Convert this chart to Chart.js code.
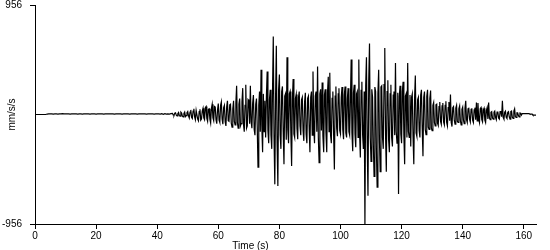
<!DOCTYPE html>
<html>
<head>
<meta charset="utf-8">
<script src="https://cdn.jsdelivr.net/npm/chart.js@4.4.1/dist/chart.umd.min.js"></script>
<style>
  html, body { margin: 0; padding: 0; background: #fff; }
  #wrap { width: 550px; height: 250px; }
</style>
</head>
<body>
<div id="wrap"><canvas id="seismo"></canvas></div>
<script>
const timeTicks = [0, 20, 40, 60, 80, 100, 120, 140, 160];
const ampTicks = [-956, 956];

// pre-event noise, mm/s/s, every 0.5 s from t = 0
const quietStep = 0.5;
const quietAccel = [
  0, 0, 0, 0, 0, 0, 0, 0, 4, 6,
  5, 6, 4, 6, 5, 4, 6, 5, 7, 5,
  5, 6, 5, 4, 6, 5, 6, 5, 4, 6,
  5, 4, 6, 5, 6, 5, 4, 5, 6, 5,
  4, 6, 5, 6, 5, 4, 6, 5, 6, 5,
  5, 6, 4, 6, 5, 6, 5, 4, 6, 5,
  6, 5, 4, 6, 5, 6, 5, 4, 6, 5,
  5, 6, 5, 4, 6, 5, 6, 5, 4, 6,
  5, 6, 4, 8, 2, 7, 3, 6, 4, 7
];

// shaking, mm/s/s, every 0.25 s from t = 45
const shakeStart = 45;
const shakeStep = 0.25;
const shakeAccel = [
  10, -5, -8, 12, 15, -6, -12, 8, 18, -10,
  -15, 20, 12, -14, -20, 10, 22, -18, -10, 15,
  25, -12, -30, 20, 40, -25, -35, 30, 50, -20,
  -45, 35, 35, -40, -55, 25, 45, -50, -40, 30,
  55, -30, -45, 60, 70, -35, -60, 45, 50, -40,
  -75, 55, 90, -30, -55, 70, 65, -45, -80, 40,
  95, -50, -70, 80, 110, -40, -85, 60, 80, -65,
  -100, 70, 120, -55, -60, 85, 90, -75, -110, 50,
  120, -60, -90, 100, 250, -70, -120, 90, 140, -100,
  -80, 110, 230, -90, -150, 80, 260, -120, -100, 130,
  120, -80, 250, -60, -120, 100, 170, -130, -180, 90,
  140, -110, -460, 80, 200, -150, 390, -100, -330, 180,
  -150, 120, -200, 160, 375, -140, -250, 130, 215, -180,
  -300, 200, 680, -200, -610, 150, 600, -250, -625, 220,
  350, -180, -300, 200, 245, -150, -435, 160, 180, -220,
  500, -130, -250, 180, 200, -160, -450, 120, 310, -170,
  -200, 140, 175, -120, -215, 150, 200, -100, -180, 130,
  150, -140, -230, 110, 190, -170, -250, 140, 160, -120,
  -330, 150, 200, -180, 375, -120, -250, 160, 200, -150,
  420, -200, -420, 180, 220, -140, 280, -190, -330, 170,
  220, -160, -330, 190, 330, -150, 365, -180, -250, 140,
  200, -170, -480, 160, 245, -120, -190, 180, 230, -140,
  -170, 150, 240, -130, -215, 170, 245, -160, -200, 140,
  230, -150, -180, 120, 480, -160, -320, 190, 260, -170,
  -285, 180, 200, -200, 480, -150, -375, 210, 285, -180,
  -300, 200, -956, 250, 500, -250, -710, 300, 620, -200,
  -410, 220, 150, -260, -540, 240, 200, -300, -635, 180,
  390, -220, -500, 240, 250, -200, -300, 260, 580, -180,
  -500, 200, 300, -220, -330, 180, 260, -200, -280, 170,
  200, -180, 450, -150, -250, 190, -695, 160, 250, -170,
  -250, 200, 285, -180, -435, 160, 180, -200, 450, -150,
  -200, 170, -280, 150, 180, -190, -435, 140, 340, -160,
  -190, 130, 150, -140, -200, 170, 215, -120, -365, 150,
  200, -130, -175, 160, 215, -110, -130, 140, 210, -120,
  -140, 80, 105, -70, -100, 85, 90, -75, -95, 70,
  110, -60, -85, 75, 100, -65, -90, 80, 115, -70,
  -100, 60, 110, -55, 175, -70, -105, 60, 70, -50,
  -85, 55, 80, -60, -70, 50, 75, -55, -90, 45,
  65, -50, -80, 55, 120, -45, -70, 50, 60, -40,
  -65, 45, 55, -50, -70, 40, 60, -45, 105, -55,
  100, -40, -70, 50, 60, -45, -65, 40, 55, -50,
  -70, 35, 60, -40, 105, -30, -45, 20, 25, -30,
  -40, 20, 30, -25, -45, 20, 25, -30, -40, 25,
  30, -20, 120, -25, -40, 20, 30, -25, -35, 20,
  25, -20, -40, 25, 30, -25, -35, 30, 50, -20,
  -25, 15, 15, -10, -20, 12, 10, -5, 8, 8,
  8, 8, 8, 8, 8, 8, 8, 8, 3, 3,
  3, 3, -6, -6, -6, -6, -6
];

const FONT = '"Liberation Sans", Arial, sans-serif';

// x title sits left of centre in the original, so draw it by hand
const timeTitle = {
  id: 'timeTitle',
  afterDraw(chart) {
    const ctx = chart.ctx;
    ctx.save();
    ctx.font = '10px ' + FONT;
    ctx.fillStyle = '#000';
    ctx.textAlign = 'center';
    ctx.textBaseline = 'middle';
    ctx.fillText('Time (s)', 250.5, 246);
    ctx.restore();
  }
};

const points = quietAccel.map((v, i) => ({ x: i * quietStep, y: v }))
  .concat(shakeAccel.map((v, i) => ({ x: shakeStart + i * shakeStep, y: v })));

new Chart(document.getElementById('seismo'), {
  type: 'line',
  data: {
    datasets: [{
      data: points,
      borderColor: '#000',
      borderWidth: 1.2,
      pointRadius: 0,
      tension: 0,
      fill: false
    }]
  },
  options: {
    responsive: true,
    maintainAspectRatio: false,
    animation: false,
    events: [],
    layout: { padding: { left: 0, right: 14, top: 5, bottom: 0 } },
    plugins: { legend: { display: false }, tooltip: { enabled: false } },
    scales: {
      x: {
        type: 'linear',
        min: 0,
        max: 164,
        afterBuildTicks: (scale) => { scale.ticks = timeTicks.map(v => ({ value: v })); },
        afterFit: (scale) => {
          scale.height = 26;
          scale.paddingLeft = 0;
          scale.paddingRight = 0;
        },
        border: { display: true, color: '#000', width: 1 },
        grid: { drawOnChartArea: false, drawTicks: true, tickLength: 5, color: '#000' },
        ticks: { color: '#000', font: { family: FONT, size: 10 }, padding: 1, maxRotation: 0 }
      },
      y: {
        min: -956,
        max: 956,
        afterBuildTicks: (scale) => { scale.ticks = ampTicks.map(v => ({ value: v })); },
        afterFit: (scale) => {
          scale.width = 35;
          scale.paddingTop = 0;
          scale.paddingBottom = 0;
        },
        border: { display: true, color: '#000', width: 1 },
        grid: { drawOnChartArea: false, drawTicks: true, tickLength: 5, color: '#000' },
        ticks: { color: '#000', font: { family: FONT, size: 10 }, padding: 8 },
        title: {
          display: true,
          text: 'mm/s/s',
          color: '#000',
          font: { family: FONT, size: 10 },
          padding: { top: 6, bottom: 0 }
        }
      }
    }
  },
  plugins: [timeTitle]
});
</script>
</body>
</html>
